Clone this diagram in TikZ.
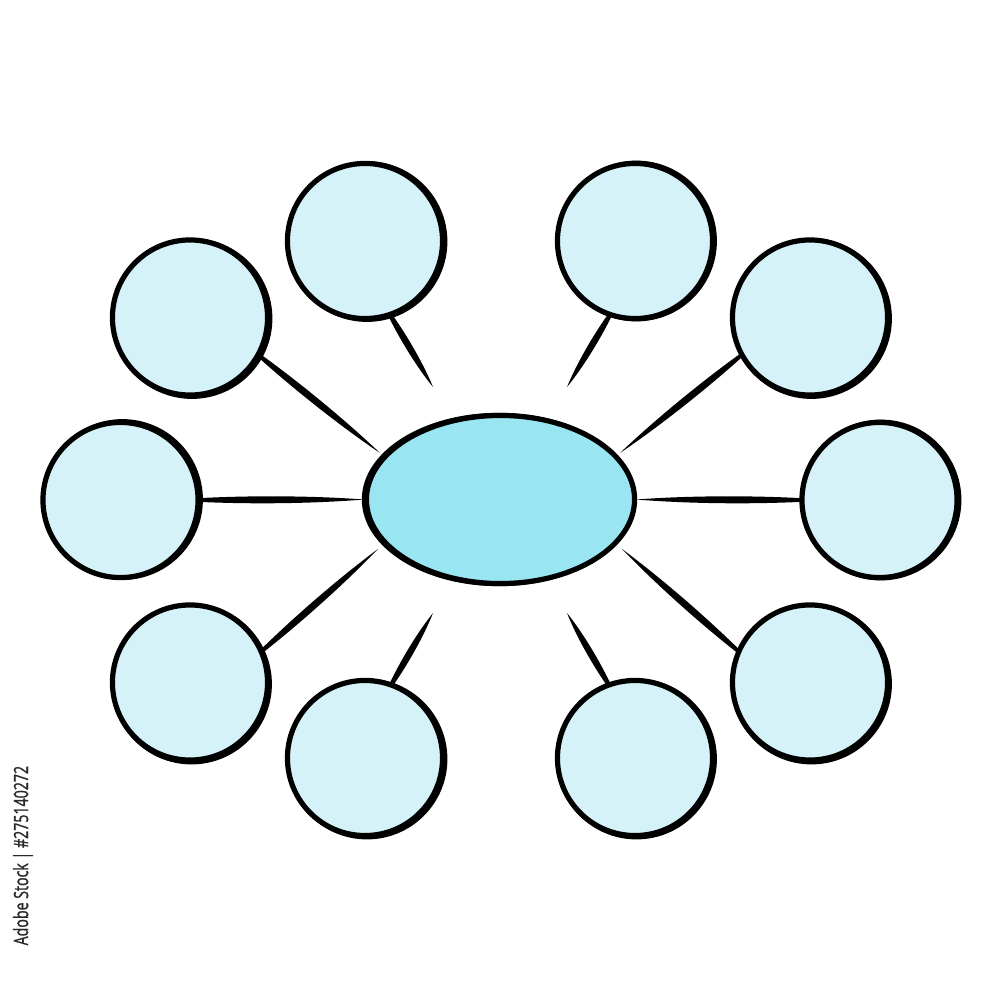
\documentclass[tikz,border=0pt]{standalone}
\usepackage{fontspec}
\newfontfamily\wmfont[FakeBold=1.5]{Open Sans}
\usetikzlibrary{calc,shapes.geometric}
\definecolor{cfill}{HTML}{D4F2F8}
\definecolor{efill}{HTML}{9AE5F2}
\definecolor{wmgray}{HTML}{2A2A2A}
\pgfdeclarelayer{bg}
\pgfsetlayers{bg,main}
\tikzset{
  bubble/.style={circle, draw=black, fill=cfill, line width=0.052cm, minimum size=1.55cm, inner sep=0pt},
  hub/.style={ellipse, draw=black, fill=efill, line width=0.052cm, minimum width=2.68cm, minimum height=1.68cm, inner sep=0pt},
  spoke/.style={fill=black},
  ink/.style={fill=black},
}
% tapered stroke: blunt start (inside the bubble), pointed end near the hub
\newcommand{\spindle}[3]{%
  \fill[spoke]
    ($(#1)!-0.1cm!(#2)!0.014cm!90:(#2)$)
    .. controls ($(#1)!0.3!(#2)!#3!90:(#2)$) and ($(#1)!0.7!(#2)!#3*0.8!90:(#2)$) .. (#2)
    .. controls ($(#1)!0.7!(#2)!#3*0.8!-90:(#2)$) and ($(#1)!0.3!(#2)!#3!-90:(#2)$) ..
    ($(#1)!-0.1cm!(#2)!0.014cm!-90:(#2)$) -- cycle;}
\newcommand{\heavy}[2]{\fill[ink] ($(#1.center)+(#2)$) circle (0.8035cm);}
\begin{document}
\begin{tikzpicture}[x=0.01cm,y=-0.01cm]
  \useasboundingbox (0,0) rectangle (1000,1000);

  % hub
  \node[hub] (hub) at (500.5,499.5) {};

  % left bubbles
  \node[bubble] (cL1) at (365,241) {};
  \node[bubble] (cL2) at (190,317.5) {};
  \node[bubble] (cL3) at (120.5,500) {};
  \node[bubble] (cL4) at (190,682.5) {};
  \node[bubble] (cL5) at (365,758) {};
  % right bubbles
  \node[bubble] (cR1) at (635,241) {};
  \node[bubble] (cR2) at (810,317.5) {};
  \node[bubble] (cR3) at (879.5,500) {};
  \node[bubble] (cR4) at (810,682.5) {};
  \node[bubble] (cR5) at (635,758) {};

  % connector free ends near the hub
  \coordinate (eL1) at (433,387);
  \coordinate (eL2) at (380,453);
  \coordinate (eL3) at (364,499.5);
  \coordinate (eL4) at (378,549);
  \coordinate (eL5) at (433,613);
  \coordinate (eR1) at (567,387);
  \coordinate (eR2) at (620,453);
  \coordinate (eR3) at (636,499.5);
  \coordinate (eR4) at (622,549);
  \coordinate (eR5) at (567,613);

  \begin{pgfonlayer}{bg}
    \fill[white] (0,0) rectangle (1000,1000);
    % uneven, hand-drawn outline weight
    \heavy{cL1}{2,0.5}
    \heavy{cL2}{2,1}
    \heavy{cL3}{2,-0.5}
    \heavy{cL4}{1.5,1.5}
    \heavy{cL5}{2,1}
    \heavy{cR1}{1.5,0}
    \heavy{cR2}{1.5,1}
    \heavy{cR3}{1.5,0}
    \heavy{cR4}{1.5,1.5}
    \heavy{cR5}{1.5,1}
    \fill[ink] ($(hub.center)+(-2,0)$) ellipse (1.366cm and 0.866cm);
    % connectors
    \spindle{cL1.-71}{eL1}{0.045cm}
    \spindle{cL2.-29}{eL2}{0.048cm}
    \spindle{cL3.0}{eL3}{0.048cm}
    \spindle{cL4.24}{eL4}{0.048cm}
    \spindle{cL5.70}{eL5}{0.045cm}
    \spindle{cR1.-109}{eR1}{0.045cm}
    \spindle{cR2.-151}{eR2}{0.048cm}
    \spindle{cR3.180}{eR3}{0.048cm}
    \spindle{cR4.156}{eR4}{0.048cm}
    \spindle{cR5.110}{eR5}{0.045cm}
  \end{pgfonlayer}

  % vertical stock id
  \node[rotate=90, anchor=west, inner sep=0pt, text=wmgray,
        font=\wmfont\fontsize{5.6}{6}\selectfont] (stockid) at (23,946) {\scalebox{0.72}[1]{Adobe Stock | \#275140272}};
\end{tikzpicture}
\end{document}
